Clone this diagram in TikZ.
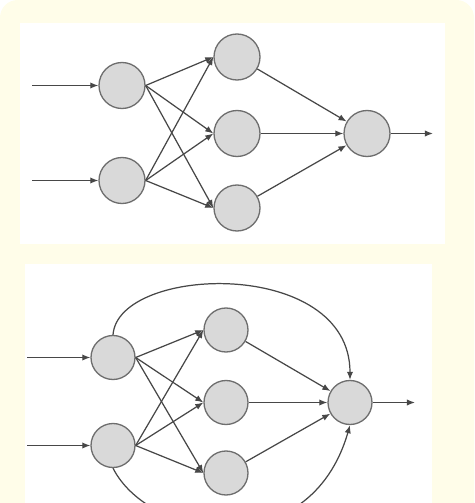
\documentclass[tikz,border=0pt]{standalone}
\usetikzlibrary{arrows.meta}

\definecolor{cream}{HTML}{FFFDE9}
\definecolor{wire}{HTML}{474747}
\definecolor{cellfill}{HTML}{D9D9D9}
\definecolor{cellline}{HTML}{6E6E6E}

\begin{document}
\begin{tikzpicture}[x=0.02cm,y=-0.02cm,
  neuron/.style={circle,draw=cellline,fill=cellfill,line width=0.75pt,inner sep=0pt},
  conn/.style={draw=wire,line width=0.7pt,-{Latex[length=4.6pt,width=3.6pt]}}]
\useasboundingbox (0,0) rectangle (474,503);
\fill[cream,rounded corners=10] (0,0) rectangle (474,530);
\fill[white] (20,23) rectangle (445,244);
\fill[white] (25,264) rectangle (432,530);

% feed-forward net
\node[neuron,minimum size=0.92cm] (a1) at (122,85.5) {};
\node[neuron,minimum size=0.92cm] (a2) at (122,180.5) {};
\node[neuron,minimum size=0.92cm] (b1) at (237,57) {};
\node[neuron,minimum size=0.92cm] (b2) at (237,133.5) {};
\node[neuron,minimum size=0.92cm] (b3) at (237,208) {};
\node[neuron,minimum size=0.92cm] (c) at (367,133.5) {};
\coordinate (ain1) at (32,85.5);
\coordinate (ain2) at (32,180.5);
\coordinate (cout) at (433,133.5);

\draw[conn] (ain1) -- (a1);
\draw[conn] (ain2) -- (a2);
\draw[conn] (a1.east) -- (b1.west);
\draw[conn] (a1.east) -- (b2.west);
\draw[conn] (a1.east) -- (b3.west);
\draw[conn] (a2.east) -- (b1.west);
\draw[conn] (a2.east) -- (b2.west);
\draw[conn] (a2.east) -- (b3.west);
\draw[conn] (b1) -- (c);
\draw[conn] (b2) -- (c);
\draw[conn] (b3) -- (c);
\draw[conn] (c) -- (cout);

% same net with skip links
\node[neuron,minimum size=0.88cm] (d1) at (113,357.5) {};
\node[neuron,minimum size=0.88cm] (d2) at (113,445.5) {};
\node[neuron,minimum size=0.88cm] (e1) at (226,330) {};
\node[neuron,minimum size=0.88cm] (e2) at (226,402.5) {};
\node[neuron,minimum size=0.88cm] (e3) at (226,473) {};
\node[neuron,minimum size=0.88cm] (f) at (350,402.5) {};
\coordinate (din1) at (27,357.5);
\coordinate (din2) at (27,445.5);
\coordinate (fout) at (415,402.5);

\draw[conn] (din1) -- (d1);
\draw[conn] (din2) -- (d2);
\draw[conn] (d1.east) -- (e1.west);
\draw[conn] (d1.east) -- (e2.west);
\draw[conn] (d1.east) -- (e3.west);
\draw[conn] (d2.east) -- (e1.west);
\draw[conn] (d2.east) -- (e2.west);
\draw[conn] (d2.east) -- (e3.west);
\draw[conn] (e1) -- (f);
\draw[conn] (e2) -- (f);
\draw[conn] (e3) -- (f);
\draw[conn] (f) -- (fout);
\draw[conn] (d1.north) .. controls +(5,-70) and +(0,-123) .. (f.north);
\draw[conn] (d2.south) .. controls +(37,73) and +(-40,139) .. (f.south);
\end{tikzpicture}
\end{document}
